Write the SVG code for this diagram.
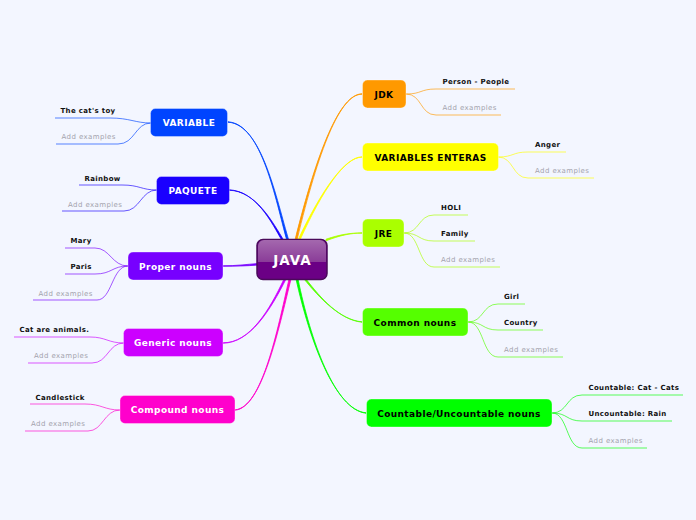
<svg xmlns="http://www.w3.org/2000/svg" width="696" height="520" viewBox="0 0 696 520">
<defs>
<linearGradient id="top" x1="0" y1="0" x2="0" y2="1"><stop offset="0" stop-color="#a468ae"/><stop offset="1" stop-color="#8a3c98"/></linearGradient>
</defs>
<style>
text{font-family:"DejaVu Sans","Liberation Sans",sans-serif}
.n{font-weight:700;font-size:9px;text-anchor:middle;letter-spacing:.4px}
.w{fill:#fff}.k{fill:#000}
.l{font-weight:700;font-size:7px;fill:#111;letter-spacing:.33px}
.a{font-size:7px;fill:#a3a3ad;letter-spacing:.4px}
.s{fill:none;stroke-width:1;stroke-opacity:.65}
.b{stroke-width:1;stroke-opacity:.35;stroke:#fff}
.m path{stroke-width:.8}
</style>
<rect width="696" height="520" fill="#f3f6ff"/>
<g id="connectors">
<g class="m">
<path fill="#0044ff" stroke="#0044ff" d="M228 121.800C262 124 275.500 200 287 241H289C276.500 200 262 124 228 122.200Z"/>
<path fill="#1a00ff" stroke="#1a00ff" d="M229 189.800C256 191 271.500 222 282.200 241H284.200C272.500 222 256 191 229 190.200Z"/>
<path fill="#7700ff" stroke="#7700ff" d="M223 265.800C236 265.800 246 264.500 258 263.500V265C246 266 236 266.200 223 266.200Z"/>
<path fill="#cc00ff" stroke="#cc00ff" d="M223 342.800C250 343 269.500 310 284 279H286C270.500 310 250 343 223 343.200Z"/>
<path fill="#ff00cc" stroke="#ff00cc" d="M235 409.800C262 408 277.500 330 289 279H291C278.500 330 262 408 235 410.200Z"/>
<path fill="#ff9900" stroke="#ff9900" d="M362 93.800C340 94 317.500 150 295 240H297C318.500 150 340 94 362 94.200Z"/>
<path fill="#ffff00" stroke="#ffff00" d="M362 156.800C345 157 321.500 190 298 240H300C322.500 190 345 157 362 157.200Z"/>
<path fill="#aaff00" stroke="#aaff00" d="M362 232.800C350 233 340 234.500 326 239.200V240.800C340 235.500 350 233 362 233.200Z"/>
<path fill="#55ff00" stroke="#55ff00" d="M362 321.800C340 320 319.500 298 304 279H306C320.500 298 340 320 362 322.200Z"/>
<path fill="#00ff00" stroke="#00ff00" d="M366 412.800C335 410 309.500 340 296 279H298C310.500 340 335 410 366 413.200Z"/>
</g>

<g stroke="#0044ff"><path class="s" d="M151 123C135 123 130 118 110 118H55"/><path class="s" d="M151 123C135 123 135 144 118 144H56"/></g>
<g stroke="#1a00ff"><path class="s" d="M157 190C141 190 140 185 122 185H79"/><path class="s" d="M157 190C141 190 140 211 124 211H62"/></g>
<g stroke="#7700ff"><path class="s" d="M128 266C112 266 110 248 95 248H65"/><path class="s" d="M128 266C112 266 112 274 95 274H65"/><path class="s" d="M128 266C112 266 112 300 97 300H33"/></g>
<g stroke="#cc00ff"><path class="s" d="M124 343C108 343 106 337 90 337H14"/><path class="s" d="M124 343C108 343 108 363 92 363H28"/></g>
<g stroke="#ff00cc"><path class="s" d="M120 410C104 410 102 404 85 404H30"/><path class="s" d="M120 410C104 410 103 431 88 431H25"/></g>
<g stroke="#ff9900"><path class="s" d="M406 94C422 94 420 89 436 89H515"/><path class="s" d="M406 94C422 94 420 115 436 115H501"/></g>
<g stroke="#ffff00"><path class="s" d="M498 157C514 157 512 152 528 152H566"/><path class="s" d="M498 157C514 157 512 178 528 178H594"/></g>
<g stroke="#aaff00"><path class="s" d="M404 233C420 233 418 215 434 215H468"/><path class="s" d="M404 233C420 233 418 241 434 241H475"/><path class="s" d="M404 233C420 233 418 267 434 267H500"/></g>
<g stroke="#55ff00"><path class="s" d="M468 322C484 322 482 304 498 304H525"/><path class="s" d="M468 322C484 322 482 330 498 330H543"/><path class="s" d="M468 322C484 322 482 357 498 357H563"/></g>
<g stroke="#00ff00"><path class="s" d="M552 413C568 413 566 395 582 395H683"/><path class="s" d="M552 413C568 413 566 421 582 421H672"/><path class="s" d="M552 413C568 413 566 448 582 448H647"/></g>
</g>

<g id="java">
<rect x="257" y="239.500" width="70" height="40" rx="6" fill="#6b0085" stroke="#4a0a5a" stroke-width="1.500"/>
<path d="M258 262V246a6 6 0 0 1 6-6h56a6 6 0 0 1 6 6v16z" fill="url(#top)"/>
<text x="292.500" y="265" text-anchor="middle" font-weight="700" font-size="13.500" fill="#fff" letter-spacing="1">JAVA</text>
</g>

<g id="variable"><rect class="b" x="150.500" y="108.500" width="77" height="28" rx="5" fill="#0044ff"/><text class="n w" x="189" y="126">VARIABLE</text></g>
<g id="paquete"><rect class="b" x="156.500" y="176.500" width="73" height="28" rx="5" fill="#1a00ff"/><text class="n w" x="193" y="194">PAQUETE</text></g>
<g id="proper"><rect class="b" x="128" y="252" width="95" height="28" rx="5" fill="#7700ff"/><text class="n w" x="175.500" y="270">Proper nouns</text></g>
<g id="generic"><rect class="b" x="123.500" y="328.500" width="99.500" height="28" rx="5" fill="#cc00ff"/><text class="n w" x="173" y="346">Generic nouns</text></g>
<g id="compound"><rect class="b" x="120" y="395.500" width="115" height="28" rx="5" fill="#ff00cc"/><text class="n w" x="177.500" y="413">Compound nouns</text></g>
<g id="jdk"><rect class="b" x="362.500" y="80" width="43.500" height="28" rx="5" fill="#ff9900"/><text class="n k" x="384" y="98">JDK</text></g>
<g id="enteras"><rect class="b" x="362.500" y="143" width="136" height="28" rx="5" fill="#ffff00"/><text class="n k" x="430.500" y="161">VARIABLES ENTERAS</text></g>
<g id="jre"><rect class="b" x="362.500" y="219" width="41.500" height="28" rx="5" fill="#aaff00"/><text class="n k" x="383.500" y="237">JRE</text></g>
<g id="common"><rect class="b" x="362.500" y="308" width="105.500" height="28" rx="5" fill="#55ff00"/><text class="n k" x="415" y="326">Common nouns</text></g>
<g id="countable"><rect class="b" x="366.500" y="399" width="185.500" height="28" rx="5" fill="#00ff00"/><text class="n k" x="459" y="417">Countable/Uncountable nouns</text></g>

<g id="leaves">
<text class="l" x="60.500" y="112.500">The cat's toy</text><text class="a" x="61.500" y="138.500">Add examples</text>
<text class="l" x="84.500" y="180.500">Rainbow</text><text class="a" x="68" y="206.500">Add examples</text>
<text class="l" x="70.500" y="243">Mary</text><text class="l" x="70.500" y="269">Paris</text><text class="a" x="38.500" y="296">Add examples</text>
<text class="l" x="19.500" y="332">Cat are animals.</text><text class="a" x="34" y="358">Add examples</text>
<text class="l" x="35.500" y="399.500">Candlestick</text><text class="a" x="31" y="426">Add examples</text>
<text class="l" x="442.500" y="84">Person - People</text><text class="a" x="442.500" y="110">Add examples</text>
<text class="l" x="535" y="147">Anger</text><text class="a" x="535" y="173">Add examples</text>
<text class="l" x="441" y="210">HOLI</text><text class="l" x="441" y="236">Family</text><text class="a" x="441" y="262">Add examples</text>
<text class="l" x="504" y="299">Girl</text><text class="l" x="504" y="325">Country</text><text class="a" x="504" y="352">Add examples</text>
<text class="l" x="588.500" y="390">Countable: Cat - Cats</text><text class="l" x="588.500" y="416">Uncountable: Rain</text><text class="a" x="588.500" y="443">Add examples</text>
</g>
</svg>
